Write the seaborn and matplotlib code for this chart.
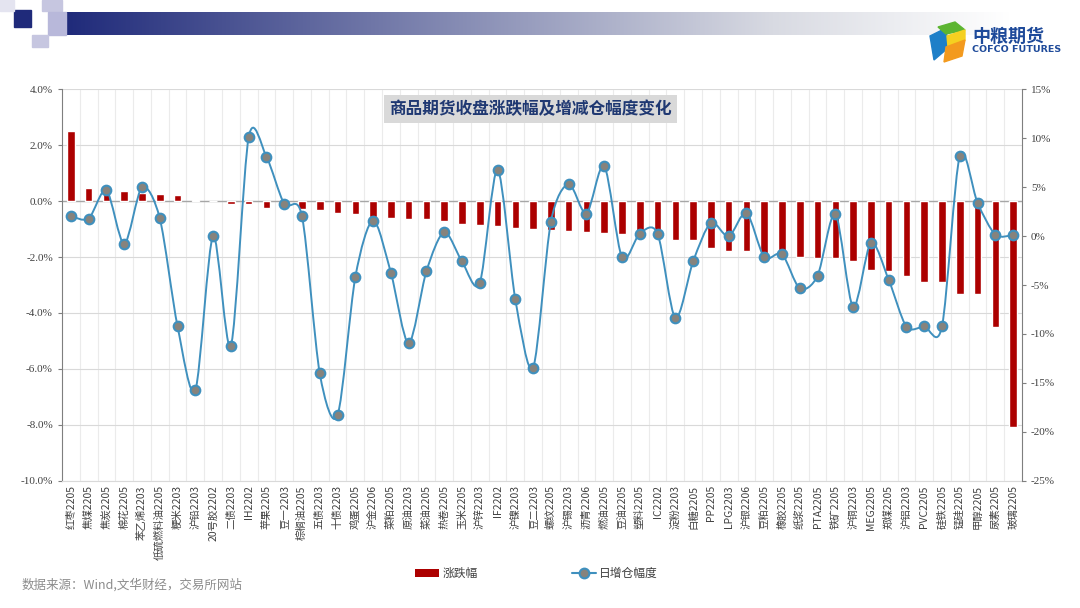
import numpy as np
import pandas as pd
import matplotlib
matplotlib.use('Agg')
import matplotlib.pyplot as plt
import seaborn as sns
from matplotlib.path import Path
from matplotlib.patches import PathPatch, Rectangle, Polygon, Patch
from matplotlib.lines import Line2D
from matplotlib.ticker import FuncFormatter

# ---------- data ----------
categories = [
    "红枣2205", "焦煤2205", "焦炭2205", "棉花2205", "苯乙烯2203", "低硫燃料油2205",
    "粳米2203", "沪铅2203", "20号胶2202", "二债2203", "IH2202", "苹果2205",
    "豆一2203", "棕榈油2205", "五债2203", "十债2203", "鸡蛋2205", "沪金2206",
    "菜粕2205", "原油2203", "菜油2205", "热卷2205", "玉米2205", "沪锌2203",
    "IF2202", "沪镍2203", "豆二2203", "螺纹2205", "沪锡2203", "沥青2206",
    "燃油2205", "豆油2205", "塑料2205", "IC2202", "淀粉2203", "白糖2205",
    "PP2205", "LPG2203", "沪银2206", "豆粕2205", "橡胶2205", "纸浆2205",
    "PTA2205", "铁矿2205", "沪铜2203", "MEG2205", "郑煤2205", "沪铝2203",
    "PVC2205", "硅铁2205", "锰硅2205", "甲醇2205", "尿素2205", "玻璃2205",
]

# 涨跌幅 (%), left axis
price_change = [
    2.51, 0.47, 0.45, 0.35, 0.27, 0.26, 0.21, 0.03, 0.0, -0.10,
    -0.12, -0.25, -0.27, -0.30, -0.33, -0.43, -0.47, -0.57, -0.60, -0.64,
    -0.64, -0.71, -0.81, -0.87, -0.89, -0.96, -1.00, -1.02, -1.06, -1.10,
    -1.14, -1.19, -1.22, -1.28, -1.38, -1.38, -1.67, -1.80, -1.80, -1.90,
    -1.96, -2.00, -2.02, -2.02, -2.14, -2.48, -2.50, -2.68, -2.90, -2.90,
    -3.33, -3.33, -4.51, -8.07,
]

# 日增仓幅度 (%), right axis
oi_change = [
    2.02, 1.78, 4.67, -0.80, 4.97, 1.81, -9.22, -15.73, 0.0, -11.20,
    10.06, 8.10, 3.28, 2.02, -14.03, -18.30, -4.19, 1.58, -3.75, -10.95,
    -3.58, 0.39, -2.60, -4.80, 6.77, -6.47, -13.43, 1.44, 5.31, 2.29,
    7.15, -2.19, 0.25, 0.25, -8.37, -2.60, 1.34, -0.05, 2.36, -2.16,
    -1.85, -5.35, -4.05, 2.26, -7.25, -0.69, -4.46, -9.25, -9.22, -9.22,
    8.20, 3.38, 0.15, 0.08,
]

title = "商品期货收盘涨跌幅及增减仓幅度变化"
source = "数据来源：Wind,文华财经，交易所网站"

BAR_RED = '#AC0000'
LINE_BLUE = '#3F90BE'
MARK_GREY = '#86837D'

df = pd.DataFrame({'合约': categories, '涨跌幅': price_change, '日增仓幅度': oi_change})

sns.set_style('white')
plt.rcParams['font.family'] = ['Noto Sans CJK SC', 'DejaVu Sans']

fig = plt.figure(figsize=(10.8, 6.08), dpi=100)

# ---------- header decoration (pixel coords) ----------
hax = fig.add_axes([0, 0, 1, 1])
hax.set_xlim(0, 1080)
hax.set_ylim(608, 0)
hax.axis('off')

grad_stops = np.array([[0.0, 0x1F, 0x2A, 0x7A], [0.75, 0xD8, 0xDA, 0xE2], [1.0, 0xFF, 0xFF, 0xFF]])
t = np.linspace(0, 1, 400)
grad = np.stack([np.interp(t, grad_stops[:, 0], grad_stops[:, c]) for c in (1, 2, 3)], axis=-1) / 255.0
hax.imshow(grad[np.newaxis, :, :], extent=[64, 1010, 35, 12], aspect='auto', zorder=1)
hax.add_patch(Rectangle((14, 10), 17, 17, color='#1F2A7A', zorder=2))
hax.add_patch(Rectangle((0, 0), 14, 11, color='#E4E4F0', zorder=2))
hax.add_patch(Rectangle((42, 0), 20, 11, color='#C6C6E0', zorder=2))
hax.add_patch(Rectangle((48, 12), 18, 23, color='#B8B8DA', zorder=2))
hax.add_patch(Rectangle((32, 35), 16, 12, color='#C6C6E0', zorder=2))

# logo
hax.add_patch(Polygon([(930, 36), (946, 28), (948, 48), (934, 60)], color='#1E7FC8', zorder=2))
hax.add_patch(Polygon([(938, 27), (955, 22), (965, 30), (946, 34)], color='#5CB531', zorder=2))
hax.add_patch(Polygon([(947, 36), (965, 30), (965, 40), (948, 47)], color='#F5D020', zorder=2))
hax.add_patch(Polygon([(946, 47), (965, 40), (962, 56), (944, 62)], color='#F39A1E', zorder=2))
hax.text(972, 36, '中粮期货', fontsize=13, fontweight='bold', color='#1E4A9A', va='center', ha='left')
hax.text(972, 50, 'COFCO FUTURES', fontsize=6.8, fontweight='bold', color='#1E4A9A',
         va='center', ha='left', family='DejaVu Sans')

# ---------- main chart ----------
ax = fig.add_axes([0.0574, 0.2089, 0.8889, 0.6447])
sns.barplot(data=df, x='合约', y='涨跌幅', color=BAR_RED, width=0.42, saturation=1, ax=ax, zorder=2)
ax.set_xlim(-0.5, len(categories) - 0.5)
ax.set_ylim(-10, 4)
ax.set_yticks(np.arange(-10, 4.01, 2))
ax.yaxis.set_major_formatter(FuncFormatter(lambda v, p: f'{v:.1f}%'))
ax.set_xlabel('')
ax.set_ylabel('')
ax.set_xticks(np.arange(0.5, len(categories) - 1, 1), minor=True)
ax.grid(axis='y', which='major', color='#D9D9D9', lw=0.8)
ax.grid(axis='x', which='minor', color='#EBEBEB', lw=0.8)
ax.grid(axis='x', which='major', visible=False)
ax.set_axisbelow(True)
ax.axhline(0, color='#A6A6A6', lw=1.0, zorder=1.5)
ax.tick_params(axis='x', which='both', length=0, labelsize=7.5, colors='#404040', pad=3)
plt.setp(ax.get_xticklabels(), rotation=90)
ax.tick_params(axis='y', length=3, color='#7F7F7F', labelsize=8, colors='#404040')
for lbl in ax.get_yticklabels():
    lbl.set_family('Liberation Serif')
for side in ('top', 'right'):
    ax.spines[side].set_visible(False)
ax.spines['left'].set_color('#7F7F7F')
ax.spines['bottom'].set_color('#D9D9D9')

ax2 = ax.twinx()
ax2.set_ylim(-25, 15)
ax2.set_yticks(np.arange(-25, 15.01, 5))
ax2.yaxis.set_major_formatter(FuncFormatter(lambda v, p: f'{v:.0f}%'))
ax2.tick_params(axis='y', length=3, color='#7F7F7F', labelsize=8, colors='#404040')
for lbl in ax2.get_yticklabels():
    lbl.set_family('Liberation Serif')
for side in ('top', 'left', 'bottom'):
    ax2.spines[side].set_visible(False)
ax2.spines['right'].set_color('#7F7F7F')

# smoothed line through the points (Catmull-Rom style cubic Bezier, like Excel's smooth line)
xpos = np.arange(len(categories), dtype=float)
pts = np.column_stack([xpos, np.array(oi_change, dtype=float)])
verts = [tuple(pts[0])]
codes = [Path.MOVETO]
n = len(pts)
for i in range(n - 1):
    p0 = pts[max(i - 1, 0)]
    p1 = pts[i]
    p2 = pts[i + 1]
    p3 = pts[min(i + 2, n - 1)]
    c1 = p1 + (p2 - p0) / 7.0
    c2 = p2 - (p3 - p1) / 7.0
    verts += [tuple(c1), tuple(c2), tuple(p2)]
    codes += [Path.CURVE4] * 3
ax2.add_patch(PathPatch(Path(verts, codes), fill=False, edgecolor=LINE_BLUE, lw=1.4, zorder=3))
sns.scatterplot(x=xpos, y=oi_change, ax=ax2, s=48, color=MARK_GREY, edgecolor=LINE_BLUE,
                linewidth=1.5, zorder=4, legend=False)
ax2.set_xlim(-0.5, len(categories) - 0.5)
ax2.set_ylabel('')

# ---------- title, legend, source ----------
fig.text(0.491, 0.821, title, ha='center', va='center', fontsize=12, fontweight='bold',
         color='#1F3872', bbox=dict(boxstyle='square,pad=0.3', fc='#D9D9D9', ec='none'))

handles = [
    Patch(facecolor=BAR_RED, edgecolor='none'),
    Line2D([], [], color=LINE_BLUE, lw=1.5, marker='o', markersize=7,
           markerfacecolor=MARK_GREY, markeredgecolor=LINE_BLUE, markeredgewidth=1.5),
]
fig.legend(handles, ['涨跌幅', '日增仓幅度'], loc='center', bbox_to_anchor=(0.497, 0.057),
           ncol=2, frameon=False, fontsize=8.5, columnspacing=8, handlelength=2,
           handletextpad=0.3, labelcolor='#404040')

fig.text(22 / 1080, 1 - 585 / 608, source, fontsize=9, color='#8C8C8C', ha='left', va='center')

fig.savefig('out.png', dpi=100)
